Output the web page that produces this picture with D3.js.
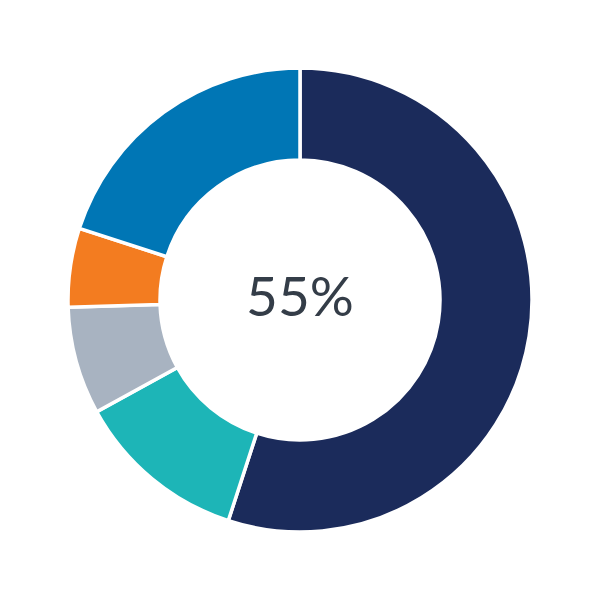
<!DOCTYPE html>
<html>
<head>
<meta charset="utf-8">
<script src="https://cdn.jsdelivr.net/npm/d3@7"></script>
<style>
  html, body { margin: 0; padding: 0; background: #ffffff; }
</style>
</head>
<body>
<svg id="chart" width="600" height="600"></svg>
<script>
const categories = ["A", "B", "C", "D", "E"];
const values = [55, 12, 7.5, 5.5, 20];
const colors = ["#1b2b5b", "#1db5b7", "#a8b3c1", "#f37c20", "#0076b5"];
const centerLabel = "55%";

const svg = d3.select("#chart");
const g = svg.append("g").attr("transform", "translate(300,300)");

const pie = d3.pie().sort(null).value(d => d.v);
const arc = d3.arc().innerRadius(140).outerRadius(232);
const data = categories.map((c, i) => ({ c, v: values[i], col: colors[i] }));

g.selectAll("path")
  .data(pie(data))
  .join("path")
  .attr("d", arc)
  .attr("fill", d => d.data.col)
  .attr("stroke", "#ffffff")
  .attr("stroke-width", 3.5);

g.append("text")
  .attr("x", 0)
  .attr("y", 16)
  .attr("text-anchor", "middle")
  .attr("font-family", "Lato, 'Open Sans', sans-serif")
  .attr("font-size", 55)
  .attr("fill", "#343d48")
  .text(centerLabel);
</script>
</body>
</html>
